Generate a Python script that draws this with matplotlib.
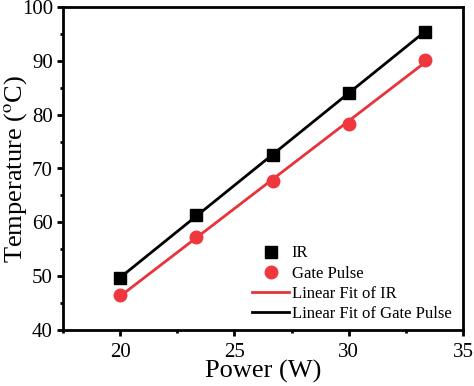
import matplotlib
matplotlib.use("Agg")
import matplotlib.pyplot as plt
import numpy as np
from matplotlib.ticker import MultipleLocator

power = [20.0, 23.33, 26.67, 30.0, 33.33]
temp_ir = [49.6, 61.4, 72.5, 84.0, 95.4]
temp_gate = [46.5, 57.2, 67.7, 78.3, 90.2]

plt.rcParams['font.family'] = ['Liberation Serif', 'DejaVu Serif']
plt.rcParams['mathtext.fontset'] = 'stix'

fig = plt.figure(figsize=(4.74, 3.86), dpi=100)
ax = fig.add_axes([63/474, 56/386, 400/474, 323/386])

x = np.array(power)
p_ir = np.polyfit(x, temp_ir, 1)
p_gate = np.polyfit(x, temp_gate, 1)
xf = np.array([x.min(), x.max()])

ax.plot(xf, np.polyval(p_ir, xf), color='black', lw=2, zorder=2)
ax.plot(xf, np.polyval(p_gate, xf), color='#e8333a', lw=2, zorder=2)
ax.plot(x, temp_ir, 's', color='black', ms=8, ls='none', label='IR', zorder=3)
ax.plot(x, temp_gate, 'o', color='#f0373e', ms=9, ls='none', label='Gate Pulse', zorder=3)
ax.plot([], [], color='#e8333a', lw=2, label='Linear Fit of IR')
ax.plot([], [], color='black', lw=2, label='Linear Fit of Gate Pulse')

ax.set_xlim(17.5, 35)
ax.set_ylim(40, 100)
ax.xaxis.set_major_locator(MultipleLocator(5))
ax.xaxis.set_minor_locator(MultipleLocator(2.5))
ax.yaxis.set_major_locator(MultipleLocator(10))
ax.yaxis.set_minor_locator(MultipleLocator(5))
ax.tick_params(which='major', direction='out', length=4, width=2, labelsize=15)
ax.tick_params(which='minor', direction='out', length=2.5, width=2)
ax.tick_params(axis='x', which='major', pad=5.2)
ax.tick_params(axis='y', which='major', pad=3.2)
ax.tick_params(top=False, right=False)
for s in ax.spines.values():
    s.set_linewidth(2)

ax.set_xlabel('Power (W)', fontsize=19)
ax.set_ylabel('Temperature ($^\\mathrm{o}$C)', fontsize=19)
ax.xaxis.set_label_coords(0.5, -0.093)
ax.yaxis.set_label_coords(-0.084, 0.5)

ax.legend(loc='lower right', frameon=False, fontsize=12, handlelength=2.2,
          handletextpad=0.15, labelspacing=0.25, borderaxespad=0.3,
          bbox_to_anchor=(1.0, -0.011))

fig.savefig('out.png', dpi=100)
